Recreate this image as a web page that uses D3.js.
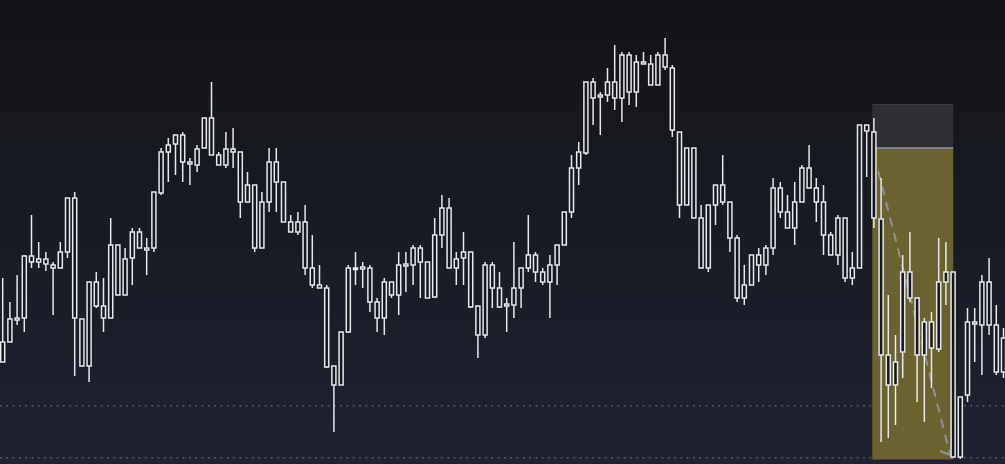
<!DOCTYPE html>
<html><head><meta charset="utf-8">
<script src="https://cdn.jsdelivr.net/npm/d3@7"></script>
<style>html,body{margin:0;padding:0;background:#17191f;overflow:hidden}svg{display:block}</style>
</head><body><svg id="c" width="1005" height="464"></svg>
<script>
const openP=[138,158,180,182,244,241,241,232,232,302,302,134,134,218,182,182,255,205,242,268,250,252,307,348,365,365,336,335,382,382,335,335,351,348,315,315,252,298,338,318,278,278,278,232,215,212,115,115,168,231,233,232,182,182,205,205,234,235,252,202,203,292,292,232,248,248,165,165,235,212,194,195,212,245,245,218,218,235,255,288,332,347,418,403,418,402,402,445,408,438,415,415,445,432,368,352,352,232,232,295,315,298,262,202,215,235,235,252,312,272,272,298,332,312,298,245,282,282,222,232,375,368,281,145,115,148,228,202,145,152,151,228,228,43,105,176,175,218,175,162];
const highP=[222,198,225,245,285,258,248,238,258,302,308,181,218,228,222,282,255,252,272,272,262,308,352,362,365,368,342,355,382,418,348,368,372,348,328,315,308,352,352,318,285,288,295,265,235,215,134,168,235,248,238,235,202,222,218,248,248,255,255,238,282,305,302,248,268,248,194,238,238,228,202,258,232,285,248,232,245,255,288,345,358,418,422,408,432,455,448,448,445,448,445,448,462,435,368,352,352,295,295,315,345,298,265,235,245,252,255,322,318,305,318,335,355,322,315,268,285,282,248,375,375,382,322,205,165,245,268,202,182,188,262,258,228,103,192,192,225,242,195,172];
const lowP=[138,158,175,168,232,232,229,185,232,242,124,134,118,192,168,182,205,205,215,252,225,248,305,318,325,318,315,328,352,345,335,332,332,282,298,248,252,288,288,278,268,265,225,212,212,132,68,115,167,215,212,188,168,165,202,185,208,215,202,202,202,252,232,215,215,192,142,162,192,192,168,182,192,228,218,215,182,215,255,282,315,345,375,365,398,390,378,395,393,436,415,415,430,363,282,295,282,232,228,275,295,248,198,195,215,218,225,245,282,272,255,298,312,278,245,245,235,218,215,232,323,272,58,62,75,122,198,98,78,112,148,195,42,41,98,138,125,165,125,122];
const closeP=[158,181,182,244,238,238,236,235,248,248,182,181,218,194,194,255,205,241,268,252,252,308,348,355,356,338,338,351,352,345,345,351,348,298,298,252,298,338,318,278,268,268,232,215,212,133,134,168,232,232,231,198,198,218,218,235,236,252,238,238,265,265,232,241,242,193,194,235,212,193,196,212,232,232,228,228,235,255,288,332,348,418,402,405,405,418,445,408,438,436,436,445,433,370,295,295,282,282,295,315,298,262,202,215,245,245,252,312,288,288,298,332,312,298,265,265,245,222,232,375,369,282,145,115,138,228,202,145,178,178,218,218,43,103,178,178,218,175,128,128];
const bars=d3.range(openP.length);
// position tool (zone) values
const zoneFrom=121, zoneTo=132;
const zoneStop=396, zoneEntry=352, zoneTarget=40.5;
const pathIdx=[121.6,131.6];
const pathPrice=[329,45];
const levelPrices=[94.3,42.3];

const W=1005,H=464;
const svg=d3.select('#c');
const defs=svg.append('defs');
const g=defs.append('linearGradient').attr('id','bg').attr('x1',0).attr('y1',0).attr('x2',0).attr('y2',1);
g.append('stop').attr('offset','0%').attr('stop-color','#131417');
g.append('stop').attr('offset','100%').attr('stop-color','#1f2331');
svg.append('rect').attr('width',W).attr('height',H).attr('fill','url(#bg)');

const x=d3.scaleBand().domain(bars).range([-0.9,-0.9+7.2*bars.length]).paddingInner(0.44).paddingOuter(0.22);
const bw=x.bandwidth();
const xc=d3.scaleLinear().domain([0,bars.length-1]).range([x(0)+bw/2,x(bars.length-1)+bw/2]);
const y=d3.scaleLinear().domain([36,500]).range([H,0]);

// dotted levels
svg.append('g').selectAll('line').data(levelPrices).join('line')
  .attr('x1',0).attr('x2',W).attr('y1',d=>y(d)).attr('y2',d=>y(d))
  .attr('stroke','#585d6a').attr('stroke-width',1.5).attr('stroke-dasharray','1.8,4.5');

// zone
const zx0=xc(zoneFrom)-1.6, zx1=xc(zoneTo)+0.2;
svg.append('rect').attr('x',zx0).attr('y',y(zoneStop)).attr('width',zx1-zx0).attr('height',y(zoneEntry)-y(zoneStop))
  .attr('fill','#2e2f34');
svg.append('line').attr('x1',zx0).attr('x2',zx1).attr('y1',y(zoneStop)+0.5).attr('y2',y(zoneStop)+0.5).attr('stroke','#3d3e44').attr('stroke-width',1);
svg.append('rect').attr('x',zx0).attr('y',y(zoneEntry)).attr('width',zx1-zx0).attr('height',y(zoneTarget)-y(zoneEntry))
  .attr('fill','#6b632f');
svg.append('line').attr('x1',zx0).attr('x2',zx1).attr('y1',y(zoneEntry)).attr('y2',y(zoneEntry)).attr('stroke','#8e90a6').attr('stroke-width',1.5);

// dashed path
const ax0=xc(pathIdx[0]), ay0=y(pathPrice[0]), ax1=xc(pathIdx[1]), ay1=y(pathPrice[1]);
svg.append('line').attr('x1',ax0).attr('y1',ay0).attr('x2',ax1).attr('y2',ay1)
  .attr('stroke','#8f9097').attr('stroke-width',2).attr('stroke-dasharray','9,7');
svg.append('line').attr('x1',ax1).attr('y1',ay1).attr('x2',ax1-10).attr('y2',ay1-4)
  .attr('stroke','#8f9097').attr('stroke-width',2);

// candles
const cg=svg.append('g');
const col='#e6e8ee';
cg.selectAll('line.w').data(bars).join('line').attr('class','w')
  .attr('x1',i=>x(i)+bw/2).attr('x2',i=>x(i)+bw/2)
  .attr('y1',i=>y(highP[i])).attr('y2',i=>y(lowP[i]))
  .attr('stroke',col).attr('stroke-width',1.5);
cg.selectAll('rect.b').data(bars).join('rect').attr('class','b')
  .attr('x',i=>x(i)).attr('width',bw)
  .attr('y',i=>y(Math.max(openP[i],closeP[i])))
  .attr('height',i=>Math.max(1.5,Math.abs(y(openP[i])-y(closeP[i]))))
  .attr('fill','#15171d').attr('stroke',col).attr('stroke-width',1.5);
</script></body></html>
